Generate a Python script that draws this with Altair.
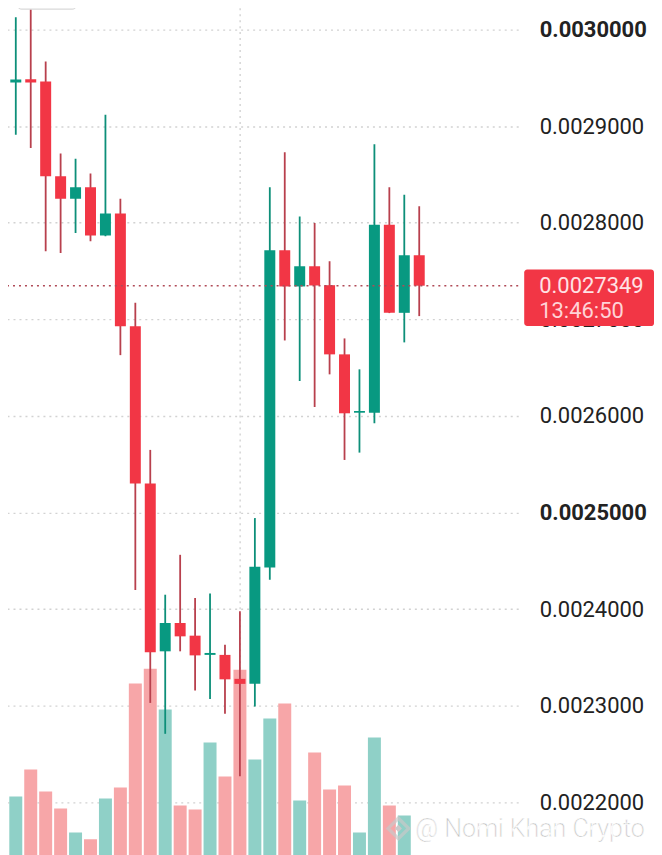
import altair as alt
import pandas as pd

# ---------------- data ----------------
candle_index = list(range(28))
open_p = [0.0029452, 0.0029486, 0.0029463, 0.0028481, 0.0028250, 0.0028367, 0.0027868, 0.0028095,
          0.0026930, 0.0025300, 0.0023564, 0.0023857, 0.0023726, 0.0023527, 0.0023527, 0.0023279,
          0.0023227, 0.0024432, 0.0027716, 0.0027341, 0.0027550, 0.0027354, 0.0026638, 0.0026034,
          0.0026034, 0.0027981, 0.0027068, 0.0027664]
high_p = [0.0030127, 0.0030250, 0.0029669, 0.0028718, 0.0028664, 0.0028509, 0.0029118, 0.0028250,
          0.0027171, 0.0025649, 0.0024150, 0.0024563, 0.0024116, 0.0024163, 0.0023633, 0.0023979,
          0.0024943, 0.0028367, 0.0028729, 0.0028064, 0.0027998, 0.0027602, 0.0026803, 0.0026483,
          0.0028814, 0.0028367, 0.0028291, 0.0028171]
low_p = [0.0028912, 0.0028773, 0.0027705, 0.0027688, 0.0027895, 0.0027809, 0.0027860, 0.0026630,
         0.0024198, 0.0023030, 0.0022710, 0.0023564, 0.0023158, 0.0023070, 0.0022917, 0.0022272,
         0.0022992, 0.0024305, 0.0026782, 0.0026362, 0.0026093, 0.0026431, 0.0025545, 0.0025621,
         0.0025925, 0.0027065, 0.0026762, 0.0027034]
close_p = [0.0029483, 0.0029452, 0.0028481, 0.0028250, 0.0028367, 0.0027868, 0.0028095, 0.0026930,
           0.0025300, 0.0023554, 0.0023857, 0.0023719, 0.0023522, 0.0023547, 0.0023274, 0.0023227,
           0.0024439, 0.0027716, 0.0027341, 0.0027550, 0.0027351, 0.0026638, 0.0026028, 0.0026052,
           0.0027981, 0.0027068, 0.0027664, 0.0027349]
volume = [59, 86, 64, 47, 23, 16, 57, 68, 172, 187, 146, 50, 46, 113,
          79, 186, 96, 137, 152, 55, 103, 66, 70, 23, 118, 50, 40, 0]

price_ticks = [0.0022, 0.0023, 0.0024, 0.0025, 0.0026, 0.0027, 0.0028, 0.0029, 0.0030]
session_break = [15]
last_price = 0.0027349
last_price_label = "0.0027349"
countdown = "13:46:50"
watermark = "@ Nomi Khan Crypto"

# ---------------- styling ----------------
GREEN, RED = "#089981", "#f23645"
GREEN_WICK, RED_WICK = "#0d8f79", "#b8404d"
VOL_GREEN, VOL_RED = "#8fd0c7", "#f7a6a8"
GRID = "#d2d2d2"
W, H = 518, 855

df = pd.DataFrame({"i": candle_index, "open": open_p, "high": high_p,
                   "low": low_p, "close": close_p, "volume": volume})
df["dir"] = ["up" if c >= o else "down" for o, c in zip(open_p, close_p)]

x_scale = alt.Scale(domain=[-0.655, 33.29], nice=False, zero=False)
y_scale = alt.Scale(domain=[0.0021452, 0.0030289], nice=False, zero=False)

x_axis = alt.Axis(values=session_break, grid=True, gridColor=GRID, gridDash=[2, 4],
                  gridWidth=1.4, labels=False, ticks=False, domain=False, title=None)
y_axis = alt.Axis(orient="right", values=price_ticks, format=".7f", grid=True,
                  gridColor=GRID, gridDash=[2, 4], gridWidth=1.4, ticks=False,
                  domain=False, labelPadding=21, labelFontSize=22, labelFont="Roboto",
                  labelColor="#222222", labelAlign="left", labelBaseline="middle",
                  labelOverlap=False, title=None,
                  labelFontWeight={"condition": {
                      "test": "abs(datum.value-0.003)<1e-9 || abs(datum.value-0.0025)<1e-9",
                      "value": "bold"}, "value": "normal"})

base = alt.Chart(df)

vol = base.mark_bar(size=13, clip=True).encode(
    x=alt.X("i:Q", scale=x_scale, axis=x_axis),
    y=alt.Y("volume:Q", scale=alt.Scale(domain=[0, H], nice=False), axis=None),
    color=alt.Color("dir:N", scale=alt.Scale(domain=["up", "down"], range=[VOL_GREEN, VOL_RED]),
                    legend=None),
)

wick = base.mark_rule(strokeWidth=1.8, clip=True).encode(
    x=alt.X("i:Q", scale=x_scale, axis=x_axis),
    y=alt.Y("low:Q", scale=y_scale, axis=y_axis),
    y2="high:Q",
    color=alt.condition("datum.close >= datum.open", alt.value(GREEN_WICK), alt.value(RED_WICK)),
)

body = base.mark_bar(size=11, clip=True).encode(
    x=alt.X("i:Q", scale=x_scale, axis=x_axis),
    y=alt.Y("open:Q", scale=y_scale, axis=y_axis),
    y2="close:Q",
    color=alt.condition("datum.close >= datum.open", alt.value(GREEN), alt.value(RED)),
)

last_df = pd.DataFrame({"price": [last_price], "label": [last_price_label], "timer": [countdown]})
last = alt.Chart(last_df)

price_line = last.mark_rule(color="#b04a57", strokeDash=[2, 4], strokeWidth=1.5).encode(
    y=alt.Y("price:Q", scale=y_scale, axis=y_axis))

price_box = last.mark_rect(color=RED, cornerRadius=3, yOffset=-16.2, y2Offset=40.5).encode(
    x=alt.value(524), x2=alt.value(654),
    y=alt.Y("price:Q", scale=y_scale, axis=y_axis), y2="price:Q")

price_text = last.mark_text(align="left", baseline="middle", dy=0.5, font="Roboto",
                            fontSize=22, color="#ffe1e4").encode(
    x=alt.value(539), y=alt.Y("price:Q", scale=y_scale, axis=y_axis), text="label:N")

timer_text = last.mark_text(align="left", baseline="middle", dy=25.5, font="Roboto",
                            fontSize=22, color="#ffd3d7").encode(
    x=alt.value(539), y=alt.Y("price:Q", scale=y_scale, axis=y_axis), text="timer:N")

price_layers = alt.layer(wick, body, price_line, price_box, price_text, timer_text)

one = alt.Chart(pd.DataFrame({"t": [watermark]}))
top_box = one.mark_rect(fill="white", stroke="#d9d9d9", strokeWidth=1.2, cornerRadius=4).encode(
    x=alt.value(17), x2=alt.value(75), y=alt.value(0), y2=alt.value(7.5))
logo_outer = one.mark_point(shape="diamond", filled=False, size=420, strokeWidth=3.5,
                            color="#c9c9c9").encode(x=alt.value(398), y=alt.value(828))
logo_inner = one.mark_point(shape="diamond", filled=True, size=50, color="#c9c9c9",
                            opacity=1).encode(x=alt.value(398), y=alt.value(828))
wm_text = one.mark_text(align="left", baseline="middle", font="Roboto", fontWeight=300,
                        fontSize=25, color="#bdbdbd", stroke="white", strokeWidth=0.6).encode(
    x=alt.value(415), y=alt.value(829), text="t:N")

chart = alt.layer(vol, price_layers, top_box, logo_outer, logo_inner, wm_text).resolve_scale(
    y="independent"
).properties(
    width=W, height=H,
    padding={"left": -8, "top": -8, "right": 0, "bottom": 0},
    background="white",
).configure_view(stroke=None)

chart.save("out.html", embed_options={"renderer": "svg", "actions": False})
